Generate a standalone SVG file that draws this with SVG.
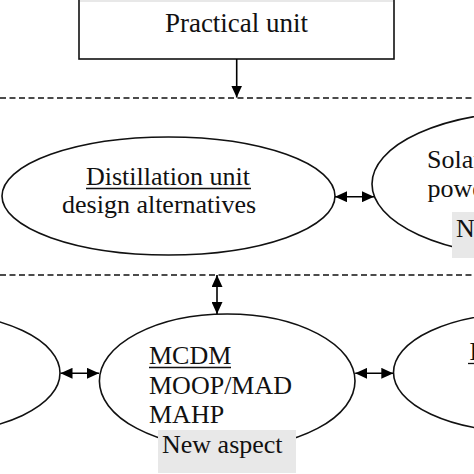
<svg xmlns="http://www.w3.org/2000/svg" width="474" height="474" viewBox="0 0 474 474">
  <defs>
    <marker id="ah" viewBox="0 0 12 11" refX="12" refY="5.5" markerWidth="12" markerHeight="11" markerUnits="userSpaceOnUse" orient="auto-start-reverse">
      <path d="M0,0 L12,5.5 L0,11 Z" fill="#000"/>
    </marker>
  </defs>
  <style>
    .t { font-family: "Liberation Serif", "Times New Roman", serif; font-size: 26px; fill: #111; }
    .shape { fill: #fff; stroke: #111; stroke-width: 1.6; }
    .ul { stroke: #111; stroke-width: 1.3; }
    .conn { stroke: #000; stroke-width: 1.6; fill: none; marker-end: url(#ah); }
    .dbl { marker-start: url(#ah); }
    .sep { stroke: #111; stroke-width: 1.5; stroke-dasharray: 6 3.5; fill: none; }
    .tag { fill: #e8e8e8; }
  </style>
  <rect width="474" height="474" fill="#fff"/>

  <g id="separators">
    <line class="sep" x1="0" y1="98" x2="474" y2="98"/>
    <line class="sep" x1="0" y1="275" x2="474" y2="275"/>
  </g>

  <g id="practical-unit">
    <rect class="shape" x="79" y="-10" width="315" height="69"/>
    <rect class="tag" x="80" y="0" width="313" height="2"/>
    <text class="t" x="236.5" y="32" text-anchor="middle" font-size="27" style="font-size:27px">Practical unit</text>
  </g>

  <g id="distillation-unit">
    <ellipse class="shape" cx="168.5" cy="196" rx="166.5" ry="59"/>
    <text class="t" x="86" y="185">Distillation unit</text>
    <line class="ul" x1="86" y1="188.5" x2="251" y2="188.5"/>
    <text class="t" x="62" y="213">design alternatives</text>
  </g>

  <g id="solar-power">
    <ellipse class="shape" cx="532" cy="184" rx="160" ry="72"/>
    <text class="t" x="427" y="168">Solar</text>
    <text class="t" x="427.5" y="197">power</text>
    <rect class="tag" x="452" y="212" width="138" height="46"/>
    <text class="t" x="456" y="237">New aspect</text>
  </g>

  <g id="left-node">
    <ellipse class="shape" cx="-68" cy="373" rx="128" ry="60"/>
  </g>

  <g id="mcdm">
    <ellipse class="shape" cx="227.2" cy="381" rx="127.8" ry="67"/>
    <text class="t" x="149" y="364">MCDM</text>
    <line class="ul" x1="149" y1="367.5" x2="231" y2="367.5"/>
    <text class="t" x="149" y="394">MOOP/MAD</text>
    <text class="t" x="149" y="423">MAHP</text>
    <rect class="tag" x="158" y="430" width="138" height="43"/>
    <text class="t" x="162" y="453">New aspect</text>
  </g>

  <g id="right-node">
    <ellipse class="shape" cx="521.5" cy="372.5" rx="128" ry="59"/>
    <text class="t" x="469.5" y="360">E</text>
    <line class="ul" x1="468" y1="363.5" x2="474" y2="363.5"/>
  </g>

  <g id="connectors">
    <line class="conn" x1="236.7" y1="59" x2="236.7" y2="97.5"/>
    <line class="conn dbl" x1="335" y1="196.7" x2="374" y2="196.7"/>
    <line class="conn dbl" x1="217" y1="275" x2="217" y2="314"/>
    <line class="conn dbl" x1="60.5" y1="373.3" x2="99" y2="373.3"/>
    <line class="conn dbl" x1="355.2" y1="373.3" x2="393.3" y2="373.3"/>
  </g>
</svg>
